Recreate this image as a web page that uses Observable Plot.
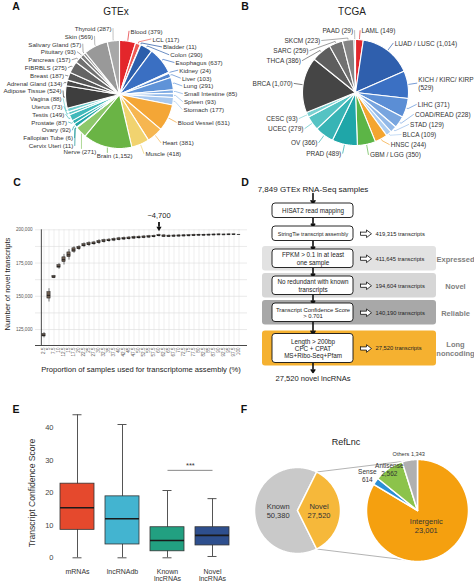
<!DOCTYPE html>
<html>
<head>
<meta charset="utf-8">
<script src="https://cdn.jsdelivr.net/npm/d3@7"></script>
<script src="https://cdn.jsdelivr.net/npm/@observablehq/plot@0.6"></script>
<style>
  body { margin: 0; background: #fff; }
  #fig { position: relative; width: 474px; height: 581px; overflow: hidden; background: #fff; color: #222; }
</style>
</head>
<body>
<div id="fig"></div>
<script>
// ================= DATA =================
// A: GTEx tissues (samples)
const gtexTissues = ["Blood","LCL","Bladder","Colon","Esophagus","Kidney","Liver","Lung","Small Intestine","Spleen","Stomach","Blood Vessel","Heart","Muscle","Brain","Nerve","Cervix Uteri","Fallopian Tube","Ovary","Prostate","Testis","Uterus","Vagina","Adipose Tissue","Adrenal Gland","Breast","FIBRBLS","Pancreas","Pituitary","Salivary Gland","Skin","Thyroid"];
const gtexSamples = [379,117,11,290,637,24,103,291,85,93,177,631,381,418,1152,271,11,6,92,87,149,73,88,524,134,187,275,157,93,57,569,287];

// B: TCGA cancers (samples)
const tcgaCancers = ["LAML","LUAD / LUSC","KICH / KIRC/ KIRP","LIHC","COAD/READ","STAD","BLCA","HNSC","GBM / LGG","PRAD","OV","UCEC","CESC","BRCA","THCA","SARC","SKCM","PAAD"];
const tcgaSamples = [149,1014,529,371,228,129,109,244,350,489,366,279,93,1070,386,259,223,29];

// C: saturation of novel transcripts (values in thousands)
const proportionPct = ["2.5","5","7.5","10","12.5","15","17.5","20","22.5","25","27.5","30","32.5","35","37.5","40","42.5","45","47.5","50","52.5","55","57.5","60","62.5","65","67.5","70","72.5","75","77.5","80","82.5","85","87.5","90","92.5","95","97.5","100"];
const novelMedK = [120.7,150.7,164.5,172.5,177.5,181.2,184.8,186.3,188.4,189.2,189.8,190.8,191.5,192.0,192.5,193.0,193.3,193.6,194.0,194.2,194.5,194.7,195.0,195.7,195.3,195.2,195.3,195.4,195.5,195.6,195.9,196.0,196.0,196.1,196.2,196.3,196.3,196.4,196.5,196.5];
const novelQ1K  = [119.8,148.3,163.8,171.5,175.7,179.4,183.5,185.4,187.6,188.4,189.1,190.0,190.8,191.4,191.9,192.4,192.7,193.0,193.4,193.6,194.0,194.2,194.5,195.2,194.8,194.8,194.9,195.0,195.1,195.2,195.5,195.7,195.7,195.8,195.9,196.0,196.1,196.2,196.4,196.5];
const novelQ3K  = [121.6,153.1,165.2,173.5,179.3,183.0,186.1,187.2,189.2,190.0,190.5,191.6,192.2,192.6,193.1,193.6,193.9,194.2,194.6,194.8,195.0,195.2,195.5,196.2,195.8,195.6,195.7,195.8,195.9,196.0,196.3,196.3,196.3,196.4,196.5,196.6,196.5,196.6,196.6,196.5];
const novelLoK  = [118.7,145.7,163.3,170.3,173.5,177.2,182.3,184.5,186.6,187.4,188.3,189.0,190.0,190.6,191.1,191.7,192.0,192.3,192.8,193.0,193.3,193.6,193.9,194.6,194.3,194.3,194.4,194.6,194.7,194.8,195.2,195.3,195.4,195.5,195.6,195.8,195.9,196.0,196.3,196.5];
const novelHiK  = [122.7,155.7,165.7,174.7,181.5,185.2,187.3,188.1,190.2,191.0,191.3,192.6,193.0,193.4,193.9,194.3,194.6,194.9,195.2,195.4,195.6,195.8,196.0,196.7,196.3,196.1,196.2,196.2,196.3,196.4,196.6,196.6,196.6,196.7,196.8,196.8,196.7,196.8,196.7,196.5];
const saturationLabel = "~4,700";
const saturationAt = "60";

// D: pipeline
const sampleTitle = "7,849 GTEx RNA-Seq samples";
const pipelineSteps = ["HISAT2 read mapping","StringTie transcript assembly","FPKM > 0.1 in at least\none sample","No redundant with known\ntranscripts","Transcript Confidence Score\n> 0.701","Length > 200bp\nCPC + CPAT\nMS+Ribo-Seq+Pfam"];
const pipelineCounts = [null,419315,411645,194604,140190,27520];
const pipelineClass = [null,null,"Expressed","Novel","Reliable","Long\nnoncoding"];
const pipelineResult = "27,520 novel lncRNAs";

// E: transcript confidence score
const tcsGroups = ["mRNAs","lncRNAdb","Known lncRNAs","Novel lncRNAs"];
const tcsLo  = [0,0,0,0.4];
const tcsQ1  = [8.6,4.1,2.0,3.8];
const tcsMed = [15.4,12.0,5.3,6.9];
const tcsQ3  = [22.8,18.9,9.4,9.4];
const tcsHi  = [44.0,41.0,20.7,18.2];
const tcsSigLevel = 26.9;

// F: RefLnc composition
const refLncTypes = ["Known","Novel"];
const refLncCounts = [50380,27520];
const novelTypes = ["Intergenic","Sense","Antisense","Others"];
const novelTypeCounts = [23001,614,2562,1343];

// ================= STYLES =================
const gtexColors = ["#e3262b","#ee5a55","#1d4f9e","#2c5eab","#3a6fc2","#4678c6","#5285cf","#5f93d8","#80ace4","#92b9e9","#a8c8ef","#f4a636","#f6b650","#f1d36f","#6ab445","#8dc86a","#128f92","#199a9c","#22a5a7","#2fb0b1","#40b9ba","#55c3c3","#6ccdcd","#3e3e3e","#4a4a4a","#575757","#646464","#717171","#7e7e7e","#8b8b8b","#999999","#a8a8a8"];
const tcgaColors = ["#e3262b","#2f5fad","#3b70c3","#5b8ed5","#78a5df","#93b9e8","#adcdf0","#f4a530","#5cb546","#1fa6a8","#38b4b5","#55c3c3","#7ad1d1","#454545","#5e5e5e","#717171","#858585","#a0a0a0"];
const tcsColors = ["#e5492d","#43b4d0","#22a081","#2e4f8e"];
const bandColors = [null,null,"#e2e2e2","#d6d6d6","#a8a8a8","#f5b130"];
const refColors = ["#c9c9c9","#f6b83a"];
const novelColors = ["#f5a00f","#2b8fd6","#8cc34b","#b0b0b0"];

const FONT = "'Liberation Sans', Arial, Helvetica, sans-serif";
const plotStyle = `font-family:${FONT};background:transparent;overflow:visible;max-width:none;`;
const fmt = d3.format(",");
const fig = document.getElementById("fig");

function place(node, left, top) {
  const d = document.createElement("div");
  d.style.cssText = `position:absolute;left:${left}px;top:${top}px;`;
  d.appendChild(node);
  fig.appendChild(d);
}
function txt(s, x, y, css = "", rotate = 0) {
  const d = document.createElement("div");
  d.textContent = s;
  d.style.cssText = `position:absolute;left:${x}px;top:${y}px;white-space:nowrap;transform:translate(-50%,-50%)${rotate ? ` rotate(${rotate}deg)` : ""};font-family:${FONT};line-height:1;${css}`;
  fig.appendChild(d);
}
function pixelScales(width, height) {
  return {
    x: {domain: [0, width], range: [0, width], axis: null},
    y: {domain: [0, height], range: [0, height], axis: null}
  };
}
function wedges(values, colors, cx, cy, r, start, tag) {
  const arcs = d3.pie().sort(null).value(d => d).startAngle(start).endAngle(start + 2 * Math.PI)(values);
  const pts = [];
  arcs.forEach((a, i) => {
    const n = Math.max(2, Math.ceil((a.endAngle - a.startAngle) / 0.015));
    pts.push({k: tag + i, x: cx, y: cy, c: colors[i]});
    for (let j = 0; j <= n; j++) {
      const t = a.startAngle + (a.endAngle - a.startAngle) * j / n;
      pts.push({k: tag + i, x: cx + r * Math.sin(t), y: cy - r * Math.cos(t), c: colors[i]});
    }
    pts.push({k: tag + i, x: cx, y: cy, c: colors[i]});
  });
  return {arcs, pts};
}

// ---------- pie with side labels (A, B) ----------
function piePanel(o) {
  const {names, values, colors, cx, cy, r, R2, RxR, RxL, gap, maxR, maxL, bottom, width, height, fontSize, labelText} = o;
  const {arcs, pts} = wedges(values, colors, cx, cy, r, 0, "w");
  const items = arcs.map((a, i) => {
    const m = (a.startAngle + a.endAngle) / 2;
    return {i, m, s: Math.sin(m), c: Math.cos(m), deg: m * 180 / Math.PI, t: labelText(names[i], values[i]), col: colors[i]};
  });
  const isBottom = d => bottom && d.deg >= bottom[0] && d.deg <= bottom[1];
  const labs = [];
  for (const side of [1, -1]) {
    const Rx = side > 0 ? RxR : RxL;
    const g = items.filter(d => !isBottom(d) && (d.s >= 0 ? 1 : -1) === side).map(d => ({...d, ny: cy - R2 * d.c}));
    g.sort((a, b) => a.ny - b.ny);
    g.forEach((d, k) => { d.y = k ? Math.max(d.ny, g[k - 1].y + gap) : d.ny; });
    const maxY = side > 0 ? maxR : maxL;
    for (let k = g.length - 1; k >= 0; k--) g[k].y = Math.min(g[k].y, k === g.length - 1 ? maxY : g[k + 1].y - gap);
    g.forEach(d => {
      const dy = (d.y - cy) * Rx / R2;
      const off = Math.max(Math.sqrt(Math.max(0, Rx * Rx - dy * dy)), Math.abs(Rx * d.s));
      labs.push({...d, lx: cx + side * off, ly: d.y, side});
    });
  }
  // labels under the pie: the further a slice sits from 6 o'clock, the higher and further left its label
  items.filter(isBottom).forEach(d => {
    const far = Math.abs(d.deg - 180) > 30;
    labs.push({...d, lx: cx + R2 * d.s - (far ? 10 : 8), ly: cy + r + (far ? 4 : 8), side: 0});
  });
  const leaders = [];
  labs.forEach(d => {
    const e = rr => ({k: d.i, x: cx + rr * d.s, y: cy - rr * d.c, col: d.col});
    if (d.side === 0) { const p = e(r - 1); leaders.push(p, {k: d.i, x: p.x, y: d.ly - 4, col: d.col}); }
    else leaders.push(e(r - 1), e(r + 2), {k: d.i, x: d.lx, y: d.ly, col: d.col});
  });
  return Plot.plot({
    width, height, margin: 0, ...pixelScales(width, height),
    color: {type: "identity"}, style: plotStyle,
    marks: [
      Plot.line(leaders, {x: "x", y: "y", z: "k", stroke: "col", strokeWidth: 0.7}),
      Plot.line(pts, {x: "x", y: "y", z: "k", fill: "c", stroke: "white", strokeWidth: 1.1, strokeLinejoin: "round"}),
      Plot.text(labs.filter(d => d.side === 1), {x: "lx", y: "ly", text: "t", textAnchor: "start", dx: 1.5, fontSize, fill: "#333", lineHeight: 1.25}),
      Plot.text(labs.filter(d => d.side === -1), {x: "lx", y: "ly", text: "t", textAnchor: "end", dx: -1.5, fontSize, fill: "#333", lineHeight: 1.25}),
      Plot.text(labs.filter(d => d.side === 0), {x: "lx", y: "ly", text: "t", textAnchor: "start", fontSize, fill: "#333"})
    ]
  });
}

// Panel A
place(piePanel({
  names: gtexTissues, values: gtexSamples, colors: gtexColors,
  cx: 119, cy: 94, r: 54, R2: 64, RxR: 63, RxL: 56.5, gap: 7.8, maxR: 156, maxL: 145, bottom: [180, 230],
  width: 237, height: 180, fontSize: 6.2,
  labelText: (n, v) => `${n} (${fmt(v)})`
}), 0, 0);

// Panel B
place(piePanel({
  names: tcgaCancers, values: tcgaSamples, colors: tcgaColors,
  cx: 118, cy: 92, r: 53, R2: 62, RxR: 62, RxL: 62, gap: 10, maxR: 154, maxL: 156, bottom: null,
  width: 237, height: 180, fontSize: 6.5,
  labelText: (n, v) => n.length > 12 ? `${n}\n(${fmt(v)})` : `${n} (${fmt(v)})`
}), 237, 0);

// Panel C
{
  const rows = proportionPct.map((p, i) => ({p, med: novelMedK[i], q1: novelQ1K[i], q3: novelQ3K[i], lo: novelLoK[i], hi: novelHiK[i]}));
  const W = 252, mL = 35, mR = 5;
  const step = (W - mL - mR) / proportionPct.length;
  const ann = [{p: saturationAt, t: saturationLabel}];
  const svg = Plot.plot({
    width: W, height: 190, marginLeft: mL, marginRight: mR, marginTop: 39.3, marginBottom: 35,
    style: plotStyle,
    x: {domain: proportionPct, padding: 0, label: null},
    y: {domain: [113, 200], label: null},
    marks: [
      Plot.gridX({stroke: "#e4e4e4", strokeOpacity: 1, strokeWidth: 0.6}),
      Plot.gridY({ticks: d3.range(125, 200.1, 12.5), stroke: "#dcdcdc", strokeOpacity: 1, strokeWidth: 0.6}),
      Plot.axisY({ticks: [125, 150, 175, 200], tickFormat: d => fmt(d * 1000), tickSize: 0, tickPadding: 3, fontSize: 4.6, color: "#555", label: null}),
      Plot.axisX({tickRotate: -90, tickSize: 0, tickPadding: 2, fontSize: 4.6, color: "#555", label: null}),
      Plot.ruleY([113], {stroke: "#333", strokeWidth: 0.9}),
      Plot.ruleX([proportionPct[0]], {dx: -step / 2, stroke: "#333", strokeWidth: 0.9}),
      Plot.ruleX(rows, {x: "p", y1: "lo", y2: "hi", stroke: "#222", strokeWidth: 0.6}),
      Plot.barY(rows, {x: "p", y1: "q1", y2: "q3", fill: "#6f5e50", stroke: "#222", strokeWidth: 0.5, insetLeft: 0.9, insetRight: 0.9}),
      Plot.tickY(rows, {x: "p", y: "med", stroke: "#111", strokeWidth: 0.8, inset: 0.9}),
      Plot.text(ann, {x: "p", y: () => 200, text: "t", dy: -14.5, fontSize: 7.5, fill: "#222"}),
      Plot.ruleX(ann, {x: "p", y1: () => 202, y2: () => 205.5, stroke: "#111", strokeWidth: 1.8}),
      Plot.dot(ann, {x: "p", y: () => 201.1, symbol: "triangle", rotate: 180, r: 1.9, fill: "#111", stroke: "none"})
    ]
  });
  place(svg, 0, 190);
}

// Panel D
{
  const W = 237, H = 215;
  const boxX1 = 35, boxX2 = 116, boxCx = (boxX1 + boxX2) / 2;
  const bandX1 = 25, bandX2 = 199, arrowX = 123, countX = 138, classX = 218;
  const hByLines = [14.5, 18.5, 29];
  let y = 23;
  const boxes = pipelineSteps.map((s, i) => {
    const lines = s.split("\n"), h = hByLines[lines.length - 1];
    if (i > 0) y += lines.length === 3 ? 12 : 8.5;
    const longest = d3.max(lines, l => l.length);
    const b = {i, s, y1: y, y2: y + h, ym: y + h / 2, fs: Math.min(6.3, 78 / (longest * 0.49)),
      count: pipelineCounts[i], cls: pipelineClass[i], band: bandColors[i]};
    y += h;
    return b;
  });
  const arrows = [{y1: 13, y2: boxes[0].y1}];
  boxes.forEach((b, i) => arrows.push({y1: b.y2, y2: i < boxes.length - 1 ? boxes[i + 1].y1 : b.y2 + 9.5}));
  const last = boxes[boxes.length - 1];
  const hollow = [];
  const shape = [[0,-1.6],[6,-1.6],[6,-3.8],[11,0],[6,3.8],[6,1.6],[0,1.6],[0,-1.6]];
  boxes.filter(b => b.count != null).forEach(b => shape.forEach(([dx, dy]) => hollow.push({k: b.i, x: arrowX + dx, y: b.ym + dy})));
  const svg = Plot.plot({
    width: W, height: H, margin: 0, ...pixelScales(W, H),
    color: {type: "identity"}, style: plotStyle,
    marks: [
      Plot.rect(boxes.filter(b => b.band), {x1: () => bandX1, x2: () => bandX2, y1: d => d.y1 - 3, y2: d => d.y2 + 3, fill: "band", rx: 3}),
      Plot.arrow(arrows, {x1: () => boxCx, x2: () => boxCx, y1: "y1", y2: "y2", stroke: "#111", strokeWidth: 1.6, headLength: 3.2, headAngle: 70}),
      Plot.rect(boxes, {x1: () => boxX1, x2: () => boxX2, y1: "y1", y2: "y2", fill: "white", stroke: "#111", strokeWidth: 0.9, rx: 3}),
      Plot.text(boxes, {x: () => boxCx, y: "ym", text: "s", fontSize: "fs", lineHeight: 1.12, fill: "#222"}),
      Plot.line(hollow, {x: "x", y: "y", z: "k", fill: "white", stroke: "#111", strokeWidth: 0.8}),
      Plot.text(boxes.filter(b => b.count != null), {x: () => countX, y: "ym", text: d => `${fmt(d.count)} transcripts`, textAnchor: "start", fontSize: 5.8, fill: "#222"}),
      Plot.text(boxes.filter(b => b.cls), {x: () => classX, y: "ym", text: "cls", fontSize: 7.5, fontWeight: "bold", fill: "#808080", lineHeight: 1.15}),
      Plot.text([sampleTitle], {x: () => boxCx, y: () => 8.5, text: d => d, fontSize: 8, fill: "#222"}),
      Plot.text([pipelineResult], {x: () => boxCx, y: () => last.y2 + 16, text: d => d, fontSize: 7.6, fill: "#222"})
    ]
  });
  place(svg, 237, 180);
}

// Panel E
{
  const rows = tcsGroups.map((g, i) => ({g, lo: tcsLo[i], q1: tcsQ1[i], med: tcsMed[i], q3: tcsQ3[i], hi: tcsHi[i], c: tcsColors[i]}));
  const sig = [{a: tcsGroups[2], b: tcsGroups[3], y: tcsSigLevel}];
  const W = 242, mL = 48;
  const step = (W - mL) / (tcsGroups.length - 0.236 + 2 * 0.236);
  const svg = Plot.plot({
    width: W, height: 200, marginLeft: mL, marginRight: 0, marginTop: 16, marginBottom: 37.7,
    style: plotStyle, color: {type: "identity"},
    x: {domain: tcsGroups, padding: 0.236, label: null},
    y: {domain: [0, 45], label: null},
    marks: [
      Plot.axisY({ticks: [0, 10, 20, 30, 40], tickSize: 0, tickPadding: -5, fontSize: 7.5, color: "#444", label: null}),
      Plot.axisX({tickSize: 0, tickPadding: 11, fontSize: 7, color: "#333", tickFormat: d => d.replace(" ", "\n"), label: null}),
      Plot.ruleX(rows, {x: "g", y1: "lo", y2: "hi", stroke: "#555", strokeWidth: 1}),
      Plot.tickY(rows, {x: "g", y: "lo", stroke: "#555", strokeWidth: 1, inset: 12.5}),
      Plot.tickY(rows, {x: "g", y: "hi", stroke: "#555", strokeWidth: 1, inset: 12.5}),
      Plot.barY(rows, {x: "g", y1: "q1", y2: "q3", fill: "c", stroke: "#333", strokeWidth: 0.8}),
      Plot.tickY(rows, {x: "g", y: "med", stroke: "#1a1a1a", strokeWidth: 1.6}),
      Plot.link(sig, {x1: "a", x2: "b", y1: "y", y2: "y", stroke: "#888", strokeWidth: 1}),
      Plot.text(sig, {x: "a", y: "y", text: () => "***", dx: step / 2, dy: -5, fontSize: 7.5, fill: "#333"})
    ]
  });
  place(svg, 0, 395);
}

// Panel F
{
  const W = 237, H = 186;
  const L = {cx: 60, cy: 115, r: 43}, R = {cx: 180, cy: 115, r: 51};
  const fNovel = refLncCounts[1] / d3.sum(refLncCounts);
  const left = wedges(refLncCounts, refColors, L.cx, L.cy, L.r, Math.PI / 2 + fNovel * Math.PI, "L");
  const right = wedges(novelTypeCounts, novelColors, R.cx, R.cy, R.r, 0, "R");
  const pol = (P, rr, a) => ({x: P.cx + rr * Math.sin(a), y: P.cy - rr * Math.cos(a)});
  const nov = left.arcs[1];
  const toRad = d => d * Math.PI / 180;
  const conn = [
    {k: 0, ...pol(L, L.r, nov.startAngle)}, {k: 0, ...pol(R, R.r, toRad(345))},
    {k: 1, ...pol(L, L.r, nov.endAngle)}, {k: 1, ...pol(R, R.r, toRad(195))}
  ];
  const refLabelRadius = [0.45, 0.5];
  const novelLabelRadius = [0.35, 1.2, 0.98, 1.12];
  const novelLabelSize = [7.5, 6.5, 6.5, 5.6];
  const labs = [];
  left.arcs.forEach((a, i) => labs.push({...pol(L, L.r * refLabelRadius[i], (a.startAngle + a.endAngle) / 2), t: `${refLncTypes[i]}\n${fmt(refLncCounts[i])}`, fs: 7.5}));
  right.arcs.forEach((a, i) => labs.push({...pol(R, R.r * novelLabelRadius[i], (a.startAngle + a.endAngle) / 2), t: i === 3 ? `${novelTypes[i]} ${fmt(novelTypeCounts[i])}` : `${novelTypes[i]}\n${fmt(novelTypeCounts[i])}`, fs: novelLabelSize[i]}));
  const svg = Plot.plot({
    width: W, height: H, margin: 0, ...pixelScales(W, H),
    color: {type: "identity"}, style: plotStyle,
    marks: [
      Plot.line(conn, {x: "x", y: "y", z: "k", stroke: "#aaa", strokeWidth: 0.9}),
      Plot.line(left.pts, {x: "x", y: "y", z: "k", fill: "c", stroke: "white", strokeWidth: 1.5, strokeLinejoin: "round"}),
      Plot.line(right.pts, {x: "x", y: "y", z: "k", fill: "c", stroke: "white", strokeWidth: 1.5, strokeLinejoin: "round"}),
      Plot.text(labs, {x: "x", y: "y", text: "t", fontSize: "fs", fill: "#333", lineHeight: 1.2})
    ]
  });
  place(svg, 237, 395);
}

// ---------- titles, letters and axis titles ----------
const letterCss = "font-weight:bold;font-size:10.5px;color:#111;";
txt("A", 16, 6, letterCss);
txt("B", 245, 6, letterCss);
txt("C", 17, 182, letterCss);
txt("D", 245, 182, letterCss);
txt("E", 16, 409, letterCss);
txt("F", 244, 409, letterCss);
txt("GTEx", 116, 12, "font-size:10px;color:#222;");
txt("TCGA", 352, 12, "font-size:10px;color:#222;");
txt("RefLnc", 346, 442, "font-size:9px;color:#222;");
txt("Number of novel transcripts", 8, 284, "font-size:7.6px;color:#222;", -90);
txt("Proportion of samples used for transcriptome assembly (%)", 141, 370, "font-size:7.6px;color:#222;");
txt("Transcript Confidence Score", 32, 493, "font-size:8.6px;color:#333;", -90);
</script>
</body>
</html>
